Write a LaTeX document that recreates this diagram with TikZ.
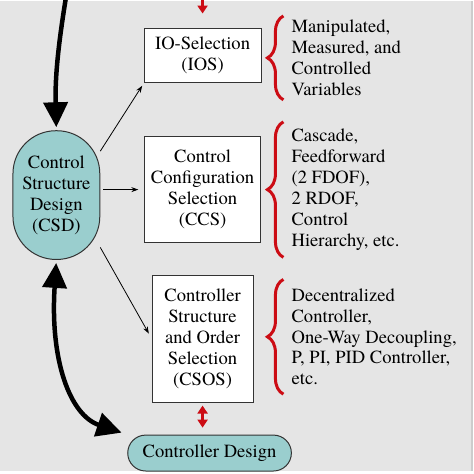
\documentclass[tikz,border=0pt]{standalone}
\usepackage{fontspec}
\setmainfont{TeX Gyre Termes}
\usetikzlibrary{arrows.meta, positioning, decorations.pathreplacing}
\usepackage{xcolor}
\definecolor{csdteal}{RGB}{154,206,206}
\definecolor{bracered}{RGB}{204,12,20}
\def\colx{203}

\begin{document}
\begin{tikzpicture}[x=1bp, y=-1bp, font=\rmfamily\fontsize{18.7}{21}\selectfont]
    \tikzstyle{every node}=[inner sep=0pt]
    \tikzstyle{design}=[draw=black!80, fill=csdteal, line width=1bp, align=center]
    \tikzstyle{selection}=[draw=black!80, fill=white, line width=0.8bp, align=center]
    \tikzstyle{annot}=[align=left, anchor=west]
    \tikzstyle{thin arrow}=[-{Stealth[length=7bp,width=5bp]}, line width=0.8bp, shorten >=6bp]
    \tikzstyle{thick arrow}=[line width=4.5bp, -{Triangle[length=25bp,width=24bp]}]
    \tikzstyle{red arrow}=[line width=3bp, draw=bracered, -{Triangle[length=8bp,width=10bp]}]
    \tikzstyle{brace}=[draw=bracered, line width=3bp, decorate, decoration={brace, amplitude=16bp}]

    % Background of the figure
    \fill[white] (0,0) rectangle (474,474);
    \fill[black!10] (0,0) rectangle (472,471);
    \draw[black!20, line width=2bp] (473,0) -- (473,471);
    \useasboundingbox (0,0) rectangle (474,474);

    % Draw the design nodes
    \node[design, minimum width=87bp, minimum height=129bp, rounded corners=43bp] (csd) at (56.5,194.5) {Control\\Structure\\Design\\(CSD)};
    \node[design, minimum width=164bp, minimum height=36bp, rounded corners=18bp] (cd) at (210,453) {Controller Design};

    % Draw the selection steps
    \node[selection, minimum width=117bp, minimum height=55bp] (ios) at (\colx,54.5) {IO-Selection\\(IOS)};
    \node[selection, minimum width=116bp, minimum height=106bp] (ccs) at (\colx,189) {Control\\Configuration\\Selection\\(CCS)};
    \node[selection, minimum width=101bp, minimum height=127bp] (csos) at (\colx,338.5) {Controller\\Structure\\and Order\\Selection\\(CSOS)};

    % Notes on the right of every step
    \node[annot] (iosv) at (292,57) {Manipulated,\\Measured, and\\Controlled\\Variables};
    \node[annot] (ccsv) at (292,189) {Cascade,\\Feedforward\\(2 FDOF),\\2 RDOF,\\Control\\Hierarchy, etc.};
    \node[annot] (csosv) at (292,336.5) {Decentralized\\Controller,\\One-Way Decoupling,\\P, PI, PID Controller,\\etc.};

    \foreach \name/\ext in {iosv/4bp, ccsv/7bp, csosv/9bp}
        \draw[brace] ([xshift=-8bp, yshift=-\ext]\name.south west) -- ([xshift=-8bp, yshift=\ext]\name.north west);

    % Connect the design node with every selection step
    \draw[thin arrow, shorten >=3bp] (csd.45) -- (ios.south west);
    \draw[thin arrow, shorten <=3bp] (csd.east |- ccs.west) -- (ccs.west);
    \draw[thin arrow] (csd.-50) -- (csos.west);

    % Thick feedback arrows
    \coordinate (feed) at (66,-3);
    \draw[thick arrow, shorten >=3bp] (feed) .. controls (59,40) and (55,75) .. (csd.north);
    \draw[thick arrow, {Triangle[length=25bp,width=24bp]}-{Triangle[length=25bp,width=24bp]}, shorten <=3bp, shorten >=6bp]
        (csd.south) .. controls (50,360) and (70,415) .. (cd.north west);

    % Red arrows along the selection column
    \coordinate (sel-in) at (\colx,-3);
    \draw[red arrow, shorten >=14bp] (sel-in) -- (ios.north);
    \draw[red arrow, {Triangle[length=8bp,width=10bp]}-{Triangle[length=8bp,width=10bp]}, shorten <=3bp, shorten >=7bp]
        (csos.south) -- (csos.south |- cd.north);
\end{tikzpicture}
\end{document}
